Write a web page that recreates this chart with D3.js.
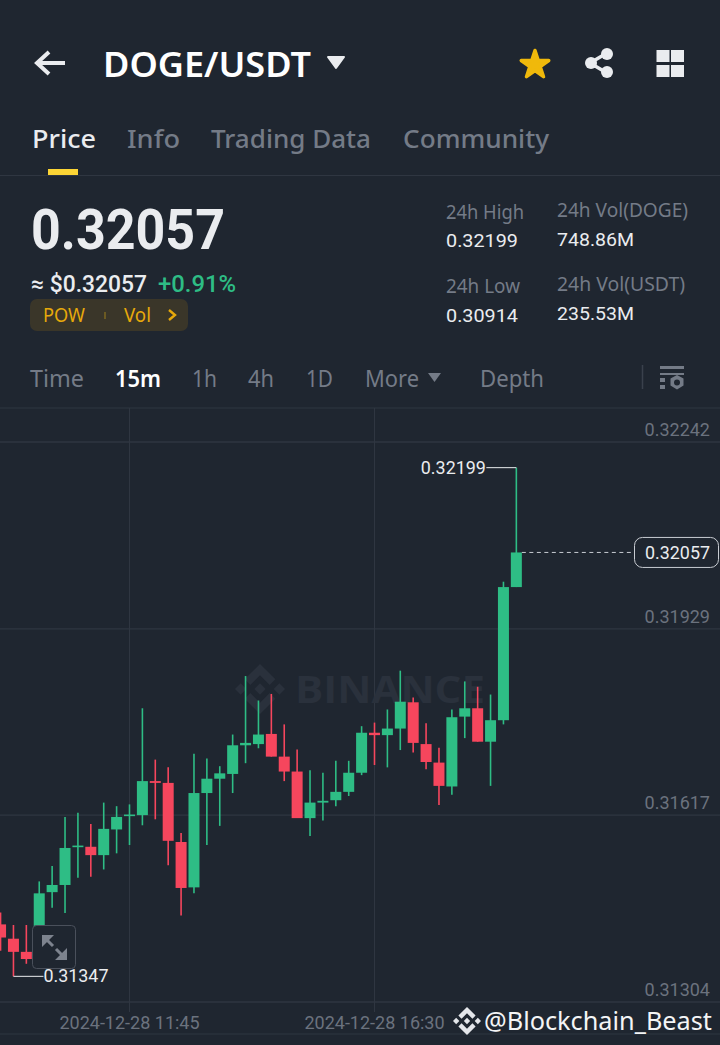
<!DOCTYPE html>
<html>
<head>
<meta charset="utf-8">
<title>DOGE/USDT</title>
<script src="https://cdn.jsdelivr.net/npm/d3@7"></script>
<style>
  html, body { margin: 0; padding: 0; background: #1f2630; overflow: hidden; }
  svg { display: block; }
</style>
</head>
<body>
<svg id="chart" width="720" height="1045"></svg>
<script>
// candles, 15m apart, oldest first
const firstCandle = '2024-12-28 09:15';
const opens = [0.31434,0.31410,0.31388,0.31389,0.31488,0.31500,0.31564,0.31564,0.31550,0.31593,0.31616,0.31617,0.31674,0.31671,0.31572,0.31496,0.31654,0.31678,0.31686,0.31734,0.31736,0.31753,0.31715,0.31690,0.31612,0.31638,0.31642,0.31656,0.31688,0.31755,0.31751,0.31762,0.31806,0.31736,0.31705,0.31665,0.31782,0.31796,0.31740,0.31776,0.31999];
const highs = [0.31454,0.31433,0.31433,0.31506,0.31532,0.31614,0.31621,0.31602,0.31638,0.31632,0.31635,0.31796,0.31710,0.31697,0.31587,0.31720,0.31712,0.31699,0.31752,0.31850,0.31809,0.31820,0.31769,0.31727,0.31692,0.31688,0.31708,0.31708,0.31766,0.31772,0.31794,0.31859,0.31814,0.31771,0.31730,0.31794,0.31841,0.31832,0.31819,0.32008,0.32199];
const lows = [0.31390,0.31347,0.31368,0.31380,0.31462,0.31453,0.31512,0.31514,0.31526,0.31553,0.31567,0.31600,0.31610,0.31533,0.31449,0.31486,0.31567,0.31599,0.31654,0.31704,0.31729,0.31715,0.31674,0.31612,0.31582,0.31608,0.31632,0.31649,0.31684,0.31701,0.31697,0.31726,0.31722,0.31694,0.31634,0.31651,0.31746,0.31740,0.31666,0.31769,0.31999];
const closes = [0.31412,0.31388,0.31376,0.31486,0.31500,0.31562,0.31566,0.31550,0.31594,0.31614,0.31618,0.31674,0.31671,0.31574,0.31495,0.31654,0.31678,0.31687,0.31734,0.31738,0.31752,0.31715,0.31690,0.31612,0.31638,0.31641,0.31656,0.31688,0.31755,0.31751,0.31762,0.31807,0.31738,0.31706,0.31666,0.31781,0.31796,0.31740,0.31776,0.31999,0.32057];

const priceTicks = [0.32242, 0.31929, 0.31617, 0.31304];
const timeTicks = ['2024-12-28 11:45', '2024-12-28 16:30'];
const lastPrice = 0.32057;
const highLabel = 0.32199;
const lowLabel = 0.31347;

const tabs = ['Price', 'Info', 'Trading Data', 'Community'];
const intervals = ['Time', '15m', '1h', '4h', '1D', 'More', 'Depth'];

const bg = '#1f2630', green = '#2ebd85', red = '#f6465d', grid = '#2f3641';
const white = '#eaecef', grey = '#747b87', axisGrey = '#6b727e', gold = '#e7a90b';
const uiFont = '"Noto Sans", sans-serif', numFont = 'Roboto, sans-serif';

const svg = d3.select('#chart');
svg.append('rect').attr('width', 720).attr('height', 1045).attr('fill', bg);

// w = measured width of the text in the picture
function label(text, x, y, size, color, weight, w, font) {
  const t = svg.append('text').text(text)
    .attr('x', x).attr('y', y)
    .attr('font-size', size).attr('fill', color)
    .attr('font-weight', weight || 400)
    .attr('font-family', font || uiFont);
  if (w) t.attr('textLength', w).attr('lengthAdjust', 'spacingAndGlyphs');
  return t;
}

function binanceLogo(cx, cy, r, color) {
  const k = r / 63.3;
  const parts = [
    'M38.73 53.2L63.3 28.63L87.89 53.22L102.19 38.92L63.3 0L24.42 38.9Z',
    'M38.73 73.42L63.3 97.99L87.89 73.4L102.19 87.7L63.3 126.61L24.42 87.72Z',
    'M0 63.31L14.3 49.01L28.6 63.31L14.3 77.61Z',
    'M126.61 63.31L112.31 49.01L98.01 63.31L112.31 77.61Z',
    'M63.3 49L77.6 63.3L63.3 77.6L49 63.3Z'
  ];
  svg.append('g')
    .attr('transform', `translate(${cx - r},${cy - r}) scale(${k})`)
    .selectAll('path').data(parts).enter().append('path')
    .attr('d', d => d).attr('fill', color);
}

// ---- header ----
svg.append('path').attr('d', 'M65 63H38M49 52L37 63L49 74')
  .attr('fill', 'none').attr('stroke', white).attr('stroke-width', 4);
label('DOGE/USDT', 103, 77, 34, '#ffffff', 600, 208);
svg.append('path').attr('d', 'M328 57H344L336 68Z')
  .attr('fill', white).attr('stroke', white).attr('stroke-width', 2).attr('stroke-linejoin', 'round');

svg.append('path')
  .attr('d', d3.symbol().type(d3.symbolStar).size(235))
  .attr('transform', 'translate(535,65)')
  .attr('fill', '#f0b90b').attr('stroke', '#f0b90b').attr('stroke-width', 3.5).attr('stroke-linejoin', 'round');

svg.append('path').attr('d', 'M607 53L590 63L607 73')
  .attr('fill', 'none').attr('stroke', white).attr('stroke-width', 3.5);
[[607, 54], [591, 63], [607, 72]].forEach(c => {
  svg.append('circle').attr('cx', c[0]).attr('cy', c[1]).attr('r', 6).attr('fill', white);
});

[[656.5, 50], [671, 50], [656.5, 65], [671, 65]].forEach(c => {
  svg.append('rect').attr('x', c[0]).attr('y', c[1]).attr('width', 13).attr('height', 12).attr('fill', white);
});

// ---- tabs ----
const tabX = [32, 127, 211, 403], tabW = [64, 53, 160, 146];
tabs.forEach((t, i) => {
  label(t, tabX[i], 148, 26, i === 0 ? white : grey, 500, tabW[i]);
});
svg.append('rect').attr('x', 48).attr('y', 169).attr('width', 30).attr('height', 6).attr('fill', '#fcd535');
svg.append('line').attr('x1', 0).attr('x2', 720).attr('y1', 175.5).attr('y2', 175.5).attr('stroke', grid);

// ---- price block ----
label('0.32057', 31, 249, 56, white, 700, 194, numFont);
label('≈ $0.32057', 31, 292, 23, white, 500, 116, numFont);
label('+0.91%', 158, 292, 23, green, 500, 78, numFont);

svg.append('rect').attr('x', 30).attr('y', 299).attr('width', 158).attr('height', 32).attr('rx', 7).attr('fill', '#3a3629');
label('POW', 43, 322, 19, gold, 400, 42);
svg.append('rect').attr('x', 104).attr('y', 312).attr('width', 2).attr('height', 7).attr('fill', '#6b5a22');
label('Vol', 124, 322, 19, gold, 400, 27);
svg.append('path').attr('d', 'M169 310L175 315L169 320').attr('fill', 'none').attr('stroke', gold).attr('stroke-width', 2.4);

label('24h High', 446, 219, 20, grey, 400, 78);
label('0.32199', 446, 247, 19, white, 400, 72, numFont);
label('24h Low', 446, 293, 20, grey, 400, 74);
label('0.30914', 446, 322, 19, white, 400, 72, numFont);
label('24h Vol(DOGE)', 557, 217, 20, grey, 400, 131);
label('748.86M', 557, 246, 19, white, 400, 77, numFont);
label('24h Vol(USDT)', 557, 291, 20, grey, 400, 128);
label('235.53M', 557, 320, 19, white, 400, 77, numFont);

// ---- interval row ----
const intervalX = [30, 115, 192, 248, 306, 365, 480], intervalW = [54, 46, 25, 26, 27, 54, 64];
intervals.forEach((t, i) => {
  label(t, intervalX[i], 387, 24, i === 1 ? '#ffffff' : grey, i === 1 ? 600 : 400, intervalW[i]);
});
svg.append('path').attr('d', 'M428 373H441L434.5 382Z').attr('fill', grey);
svg.append('line').attr('x1', 642.5).attr('x2', 642.5).attr('y1', 365).attr('y2', 389).attr('stroke', '#3a414c').attr('stroke-width', 1.5);
svg.append('path')
  .attr('d', 'M660 366H684V369H660ZM660 373H684V375H660ZM660 378H665V382H660ZM660 385H665V389H660Z')
  .attr('fill', grey);
svg.append('path')
  .attr('d', 'M677 375L683.5 378.5V385.5L677 389.5L670.5 385.5V378.5ZM677 379.5A3 3 0 1 0 677 385.5A3 3 0 1 0 677 379.5Z')
  .attr('fill', grey).attr('fill-rule', 'evenodd');

// ---- chart ----
const parseTime = d3.utcParse('%Y-%m-%d %H:%M');
const formatTime = d3.utcFormat('%Y-%m-%d %H:%M');
const times = opens.map((d, i) => d3.utcMinute.offset(parseTime(firstCandle), i * 15));

const chartTop = 408, chartBottom = 1012;
const x = d3.scaleUtc()
  .domain(timeTicks.map(parseTime))
  .range([129.5, 374.5]);
const y = d3.scaleLinear()
  .domain([priceTicks[3], priceTicks[0]])
  .range([1002, 442]);

svg.append('line').attr('x1', 0).attr('x2', 720).attr('y1', chartTop).attr('y2', chartTop).attr('stroke', grid);
svg.append('line').attr('x1', 0).attr('x2', 720).attr('y1', 1034).attr('y2', 1034).attr('stroke', grid);

const yAxis = svg.append('g')
  .attr('transform', 'translate(720,0)')
  .call(d3.axisLeft(y).offset(0).tickValues(priceTicks).tickFormat(d3.format('.5f')).tickSize(720));
yAxis.select('.domain').remove();
yAxis.selectAll('line').attr('stroke', grid).attr('stroke-width', 1.3);
yAxis.selectAll('text')
  .attr('x', -10).attr('dy', '-0.02em').attr('y', -6)
  .attr('fill', axisGrey).attr('font-size', 18).attr('font-family', numFont);

const xAxis = svg.append('g')
  .attr('transform', `translate(0,${chartBottom})`)
  .call(d3.axisBottom(x).offset(0).tickValues(timeTicks.map(parseTime)).tickFormat(formatTime).tickSize(chartTop - chartBottom));
xAxis.select('.domain').remove();
xAxis.selectAll('line').attr('stroke', grid);
xAxis.selectAll('text')
  .attr('y', 17).attr('dy', 0)
  .attr('fill', axisGrey).attr('font-size', 18).attr('font-family', numFont);

// watermark sits under the candles
binanceLogo(260, 689, 25, '#2a313c');
label('BINANCE', 295, 703, 38, '#2a313c', 700, 190, '"Open Sans", sans-serif');

const candleColor = i => closes[i] >= opens[i] ? green : red;
const bodyW = 11;

svg.append('g').selectAll('line').data(times).enter().append('line')
  .attr('x1', d => x(d)).attr('x2', d => x(d))
  .attr('y1', (d, i) => y(highs[i])).attr('y2', (d, i) => y(lows[i]))
  .attr('stroke', (d, i) => candleColor(i)).attr('stroke-width', 1.6);

svg.append('g').selectAll('rect').data(times).enter().append('rect')
  .attr('x', d => x(d) - bodyW / 2).attr('width', bodyW)
  .attr('y', (d, i) => y(Math.max(opens[i], closes[i])))
  .attr('height', (d, i) => Math.max(1.6, Math.abs(y(opens[i]) - y(closes[i]))))
  .attr('fill', (d, i) => candleColor(i));

// high / low callouts
const highX = x(times[highs.indexOf(highLabel)]), lowX = x(times[lows.indexOf(lowLabel)]);
svg.append('line').attr('x1', highX - 30).attr('x2', highX).attr('y1', y(highLabel)).attr('y2', y(highLabel)).attr('stroke', white);
label(highLabel.toFixed(5), highX - 95.5, y(highLabel) + 6, 17.5, white, 400, 65, numFont);
svg.append('line').attr('x1', lowX).attr('x2', lowX + 30).attr('y1', y(lowLabel)).attr('y2', y(lowLabel)).attr('stroke', white);
label(lowLabel.toFixed(5), lowX + 30, y(lowLabel) + 6, 17.5, white, 400, 65, numFont);

// last price
svg.append('line').attr('x1', x(times[times.length - 1]) + bodyW / 2).attr('x2', 631)
  .attr('y1', y(lastPrice)).attr('y2', y(lastPrice))
  .attr('stroke', '#c8ccd2').attr('stroke-dasharray', '4 3.5');
svg.append('rect').attr('x', 634.5).attr('y', y(lastPrice) - 15).attr('width', 84).attr('height', 30).attr('rx', 8)
  .attr('fill', bg).attr('stroke', '#c8ccd2');
label(lastPrice.toFixed(5), 645, y(lastPrice) + 6.5, 18, white, 400, 65, numFont);

// expand button over the candles
svg.append('rect').attr('x', 32.5).attr('y', 925.5).attr('width', 43).attr('height', 43).attr('rx', 4)
  .attr('fill', bg).attr('stroke', '#4a505b');
svg.append('path').attr('d', 'M42 935H54L42 947Z M67 960H55L67 948Z').attr('fill', '#7d838e');
svg.append('path').attr('d', 'M46 939L53 946M63 956L56 949').attr('stroke', '#7d838e').attr('stroke-width', 3);

// user tag
binanceLogo(467, 1021, 14, '#e4e6ea');
label('@Blockchain_Beast', 484, 1030, 26, '#f4f5f6', 400, 228);
</script>
</body>
</html>
